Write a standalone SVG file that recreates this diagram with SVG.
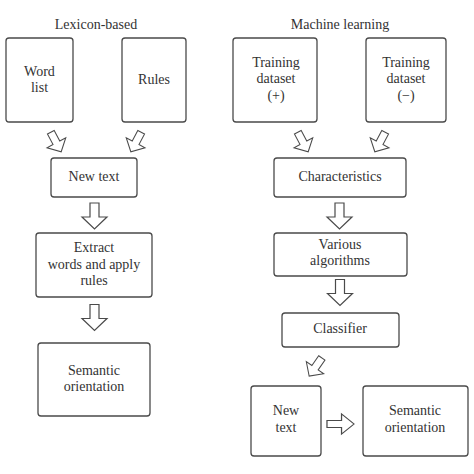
<svg xmlns="http://www.w3.org/2000/svg" width="474" height="474" viewBox="0 0 474 474">
<style>
.box{fill:#fff;stroke:#4a4a4a;stroke-width:1.3}
.arr{fill:#fff;stroke:#4a4a4a;stroke-width:1.2;stroke-linejoin:miter}
.t{font-size:14px;fill:#333;text-anchor:middle}
</style>
<defs>
<path id="blk" d="M-4.5,-13 L4.5,-13 L4.5,1 L12.5,1 L0,13 L-12.5,1 L-4.5,1 Z"/>
</defs>
<rect width="474" height="474" fill="#fff"/>
<g font-family="Liberation Serif, DejaVu Serif, Times New Roman, serif">
<text class="t" x="96" y="29">Lexicon-based</text>
<text class="t" x="340" y="29">Machine learning</text>

<g id="word-list"><rect class="box" x="6" y="38" width="67" height="84" rx="3"/><text class="t" x="39.5" y="76">Word</text><text class="t" x="39.5" y="92">list</text></g>
<g id="rules"><rect class="box" x="122" y="38" width="64" height="84" rx="3"/><text class="t" x="154" y="84">Rules</text></g>
<g id="new-text-l"><rect class="box" x="51" y="158" width="86" height="39" rx="3"/><text class="t" x="94" y="181">New text</text></g>
<g id="extract"><rect class="box" x="36" y="233" width="116" height="64" rx="3"/><text class="t" x="94" y="252">Extract</text><text class="t" x="94" y="269">words and apply</text><text class="t" x="94" y="285">rules</text></g>
<g id="semantic-l"><rect class="box" x="38" y="343" width="112" height="73" rx="3"/><text class="t" x="94" y="375">Semantic</text><text class="t" x="94" y="391">orientation</text></g>

<g id="train-pos"><rect class="box" x="233" y="38" width="84" height="84" rx="3"/><text class="t" x="276" y="67">Training</text><text class="t" x="276" y="83">dataset</text><text class="t" x="276" y="100">(+)</text></g>
<g id="train-neg"><rect class="box" x="366" y="38" width="80" height="84" rx="3"/><text class="t" x="406" y="67">Training</text><text class="t" x="406" y="83">dataset</text><text class="t" x="406" y="100">(−)</text></g>
<g id="characteristics"><rect class="box" x="274" y="158" width="132" height="39" rx="3"/><text class="t" x="340" y="181">Characteristics</text></g>
<g id="algorithms"><rect class="box" x="274" y="233" width="133" height="43" rx="3"/><text class="t" x="340" y="249">Various</text><text class="t" x="340" y="265">algorithms</text></g>
<g id="classifier"><rect class="box" x="282" y="313" width="117" height="34" rx="3"/><text class="t" x="340" y="333">Classifier</text></g>
<g id="new-text-r"><rect class="box" x="251" y="386" width="70" height="70" rx="3"/><text class="t" x="286" y="415">New</text><text class="t" x="286" y="432">text</text></g>
<g id="semantic-r"><rect class="box" x="363" y="386" width="105" height="70" rx="3"/><text class="t" x="415" y="415">Semantic</text><text class="t" x="415" y="432">orientation</text></g>
</g>
<g id="connectors">
<use href="#blk" class="arr" transform="translate(56,142) rotate(-28) scale(0.85)"/>
<use href="#blk" class="arr" transform="translate(136,142) rotate(28) scale(0.85)"/>
<use href="#blk" class="arr" transform="translate(94.5,216)"/>
<use href="#blk" class="arr" transform="translate(94.5,317.5)"/>
<use href="#blk" class="arr" transform="translate(303,142) rotate(-28) scale(0.85)"/>
<use href="#blk" class="arr" transform="translate(380,142) rotate(28) scale(0.85)"/>
<use href="#blk" class="arr" transform="translate(339.5,216)"/>
<use href="#blk" class="arr" transform="translate(340,292.5)"/>
<use href="#blk" class="arr" transform="translate(315.5,367) rotate(35) scale(0.85)"/>
<use href="#blk" class="arr" vector-effect="non-scaling-stroke" transform="translate(340.5,424) rotate(-90) scale(0.8,1.04)"/>
</g>
</svg>
